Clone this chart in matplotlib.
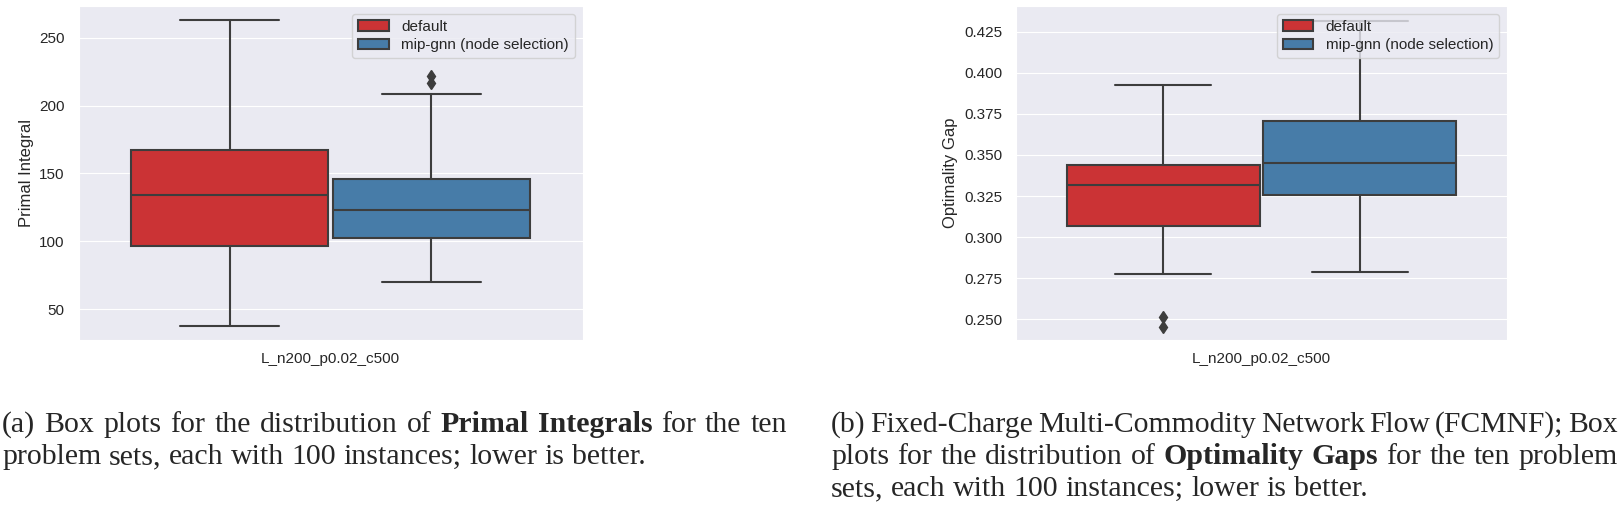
import matplotlib
matplotlib.use('Agg')
import matplotlib.pyplot as plt
import seaborn as sns

sns.set_style('darkgrid')
plt.rcParams['font.family'] = ['Liberation Sans', 'DejaVu Sans']

category = 'L_n200_p0.02_c500'
methods = ['default', 'mip-gnn (node selection)']

# primal integral, one value per method
pi_whislo = [37.5, 69.9]
pi_q1 = [96.8, 102.7]
pi_med = [134.2, 122.9]
pi_q3 = [167.1, 145.7]
pi_whishi = [262.8, 208.8]
pi_fliers = [[], [216.3, 221.4]]

# optimality gap
og_whislo = [0.2773, 0.2786]
og_q1 = [0.3069, 0.3254]
og_med = [0.3315, 0.3449]
og_q3 = [0.3439, 0.3705]
og_whishi = [0.3924, 0.4317]
og_fliers = [[0.2516, 0.2455], []]

# captions: (text, bold?) pieces per line
cap_a = [[('(a) Box plots for the distribution of', False), ('Primal Integrals', True),
          ('for the ten', False)],
         [('problem sets, each with 100 instances; lower is better.', False)]]
cap_b = [[('(b) Fixed-Charge Multi-Commodity Network Flow (FCMNF); Box', False)],
         [('plots for the distribution of', False), ('Optimality Gaps', True),
          ('for the ten problem', False)],
         [('sets, each with 100 instances; lower is better.', False)]]

colors = sns.color_palette('Set1', 2, desat=0.75)
gray = '#3d3d3d'
W, H = 1622, 505


def boite(ax, lo, q1, med, q3, hi, fl, ylabel, ylim):
    stats = []
    for k in range(len(methods)):
        stats.append({'whislo': lo[k], 'q1': q1[k], 'med': med[k], 'q3': q3[k],
                      'whishi': hi[k], 'fliers': fl[k], 'label': methods[k]})
    pos = [-0.2, 0.2]
    b = ax.bxp(stats, positions=pos, widths=0.392, capwidths=0.196,
               patch_artist=True, manage_ticks=False,
               boxprops=dict(edgecolor=gray, linewidth=1.5),
               medianprops=dict(color=gray, linewidth=1.5),
               whiskerprops=dict(color=gray, linewidth=1.5),
               capprops=dict(color=gray, linewidth=1.5),
               flierprops=dict(marker='d', markersize=6, markerfacecolor=gray,
                               markeredgecolor=gray))
    for patch, c in zip(b['boxes'], colors):
        patch.set_facecolor(c)
    ax.set_xlim(-0.5, 0.5)
    ax.set_ylim(ylim)
    ax.set_xticks([0])
    ax.set_xticklabels([category], fontsize=11)
    ax.tick_params(axis='y', labelsize=11, length=0, pad=10)
    ax.tick_params(axis='x', length=0, pad=9)
    ax.xaxis.grid(False)
    ax.set_ylabel(ylabel, fontsize=12)
    ax.legend(b['boxes'], methods, loc='upper right', fontsize=11, labelspacing=0.3)


fig = plt.figure(figsize=(W / 100, H / 100), dpi=100)
ax1 = fig.add_axes([78.5 / W, 1 - 340 / H, 504 / W, 334 / H])
ax2 = fig.add_axes([1016 / W, 1 - 340 / H, 491 / W, 334 / H])

boite(ax1, pi_whislo, pi_q1, pi_med, pi_q3, pi_whishi, pi_fliers,
      'Primal Integral', (27.4, 273.3))
boite(ax2, og_whislo, og_q1, og_med, og_q3, og_whishi, og_fliers,
      'Optimality Gap', (0.2374, 0.4406))

r = fig.canvas.get_renderer()


def largeur(s, size, bold=False):
    t = fig.text(0, 0, s, fontsize=size, family='Liberation Serif',
                 fontweight='bold' if bold else 'normal')
    w = t.get_window_extent(r).width
    t.remove()
    return w


taille = 21.5


def ecrire(lignes, x0, x1, y0, dy):
    for i, ligne in enumerate(lignes):
        mots = []
        for txt, gras in ligne:
            for m in txt.split(' '):
                mots.append((m, gras))
        justifie = i < len(lignes) - 1 and len(mots) > 1
        s = taille
        while True:
            larg = [largeur(m, s, g) for m, g in mots]
            normal = largeur('a a', s) - largeur('aa', s)
            espace = normal
            if justifie:
                espace = (x1 - x0 - sum(larg)) / (len(mots) - 1)
                if espace < 0.6 * normal:
                    s -= 0.2
                    continue
            break
        x = x0
        for (m, g), w in zip(mots, larg):
            fig.text(x / W, 1 - (y0 + dy * i) / H, m, fontsize=s,
                     family='Liberation Serif', fontweight='bold' if g else 'normal',
                     va='baseline', ha='left')
            x += w + espace


ecrire(cap_a, 2, 787, 432, 32)
ecrire(cap_b, 831, 1618, 432, 32)

fig.savefig('out.png', dpi=100)
